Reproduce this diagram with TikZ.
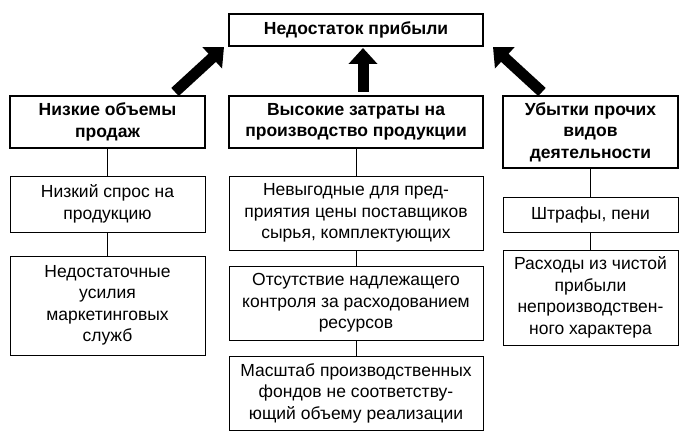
\documentclass[tikz,border=0pt]{standalone}
\usepackage{fontspec}
\setmainfont{Liberation Sans}
\usetikzlibrary{arrows.meta}
\begin{document}
\begin{tikzpicture}[x=1pt,y=-1pt,
  every node/.style={draw, align=center, inner sep=2pt,
    font=\fontsize{17.5}{21.5}\selectfont},
  head/.style={line width=2.2pt, font=\bfseries\fontsize{17.5}{21.5}\selectfont},
  item/.style={line width=0.7pt},
  bigarrow/.style={line width=11pt, -{Triangle[length=16pt,width=28pt]}},
  link/.style={line width=1pt}]
  \useasboundingbox (0,0) rectangle (688,443);
  % top
  \node[head, minimum width=254pt, minimum height=32pt] (prof) at (356,30) {Недостаток прибыли};
  % level 1
  \node[head, minimum width=195pt, minimum height=52pt] (sales) at (107.5,122) {Низкие объемы\\продаж};
  \node[head, minimum width=254pt, minimum height=52pt] (cost) at (356,122) {Высокие затраты на\\производство продукции};
  \node[head, minimum width=175pt, minimum height=72pt] (loss) at (590.5,132) {Убытки прочих\\видов\\деятельности};
  % level 2
  \node[item, minimum width=195pt, minimum height=56pt] (demand) at (107.5,204) {Низкий спрос на\\продукцию};
  \node[item, minimum width=195pt, minimum height=99pt] (market) at (107.5,305.5) {Недостаточные\\усилия\\маркетинговых\\служб};
  \node[item, minimum width=254pt, minimum height=74pt] (price) at (356,213) {Невыгодные для пред-\\приятия цены поставщиков\\сырья, комплектующих};
  \node[item, minimum width=254pt, minimum height=74pt] (control) at (356,303) {Отсутствие надлежащего\\контроля за расходованием\\ресурсов};
  \node[item, minimum width=254pt, minimum height=74pt] (scale) at (356,393) {Масштаб производственных\\фондов не соответству-\\ющий объему реализации};
  \node[item, minimum width=175pt, minimum height=35pt] (fine) at (590.5,214.5) {Штрафы, пени};
  \node[item, minimum width=175pt, minimum height=95pt] (spend) at (590.5,297.5) {Расходы из чистой\\прибыли\\непроизводствен-\\ного характера};
  % connectors
  \draw[link] (sales) -- (demand);
  \draw[link] (demand) -- (market);
  \draw[link] (cost) -- (price);
  \draw[link] (price) -- (control);
  \draw[link] (control) -- (scale);
  \draw[link] (loss) -- (fine);
  \draw[link] (fine) -- (spend);
  % block arrows
  \coordinate (aL) at (175,92);
  \coordinate (aM) at (363,92);
  \coordinate (aR) at (542,92);
  \draw[bigarrow] (aL) -- (224,47);
  \draw[bigarrow] (aM) -- (363,48);
  \draw[bigarrow] (aR) -- (493,47);
\end{tikzpicture}
\end{document}
